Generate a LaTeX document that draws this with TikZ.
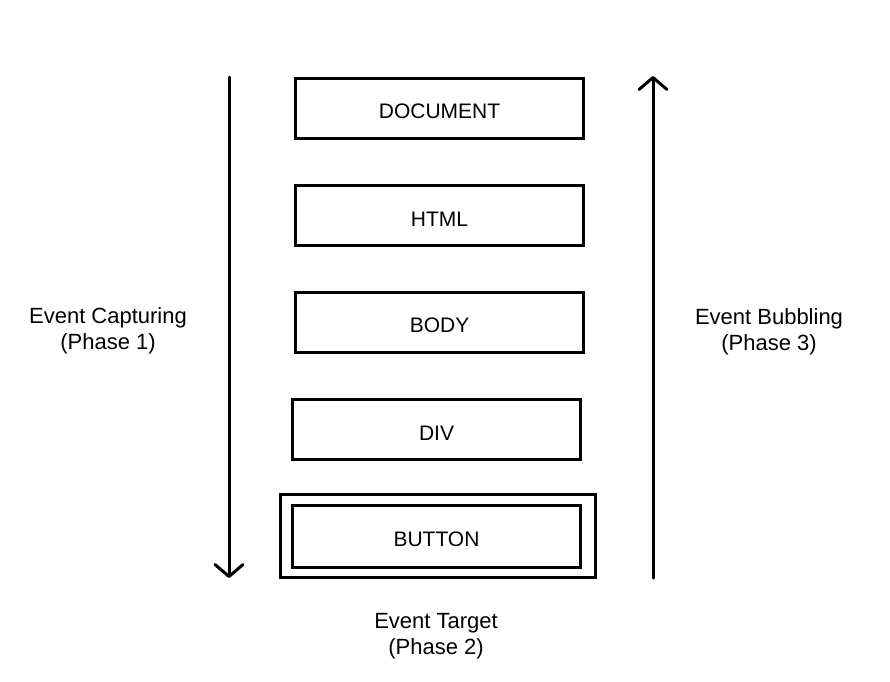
\documentclass[tikz,border=0pt]{standalone}
\usepackage{fontspec}
\setmainfont{Liberation Sans}
\usepackage{tikz}
\usetikzlibrary{positioning}
\usetikzlibrary{arrows.meta}
\pgfdeclarelayer{nodelayer}
\pgfdeclarelayer{edgelayer}
\pgfsetlayers{nodelayer,edgelayer,main}
\tikzset{
  layerbox/.style={draw, line width=3pt, minimum width=288pt, minimum height=60pt, text height=21pt, font=\fontsize{21}{25}\selectfont},
  phase/.style={align=center, font=\fontsize{22}{26}\selectfont},
  flow/.style={line width=3pt, line cap=round, -{Straight Barb[round, length=12pt, width=28pt]}}
}
\begin{document}
\begin{tikzpicture}[x=1pt, y=-1pt]
  \useasboundingbox (0, 0) rectangle (890, 681);
  \begin{pgfonlayer}{nodelayer}
    \node [layerbox] (0) at (439.5, 108.5) {DOCUMENT};
    \node [layerbox] (1) at (439.5, 215.5) {HTML};
    \node [layerbox] (2) at (439.5, 322.5) {BODY};
    \node [layerbox] (3) at (436.5, 429.5) {DIV};
    \node [layerbox, minimum height=62pt] (4) at (436.5, 536.5) {BUTTON};
    \node [draw, line width=3pt, minimum width=315pt, minimum height=83pt] (5) at (438, 536) {};
    \node [phase] (6) at (108, 331) {Event Capturing\\(Phase 1)};
    \node [phase] (7) at (769, 332) {Event Bubbling\\(Phase 3)};
    \node [phase] (8) at (436, 636) {Event Target\\(Phase 2)};
    \coordinate (9) at (229, 77);
    \coordinate (10) at (229, 578);
    \coordinate (11) at (653, 578);
    \coordinate (12) at (653, 76);
  \end{pgfonlayer}
  \begin{pgfonlayer}{edgelayer}
    \draw [flow] (9) to (10);
    \draw [flow] (11) to (12);
  \end{pgfonlayer}
\end{tikzpicture}
\end{document}
